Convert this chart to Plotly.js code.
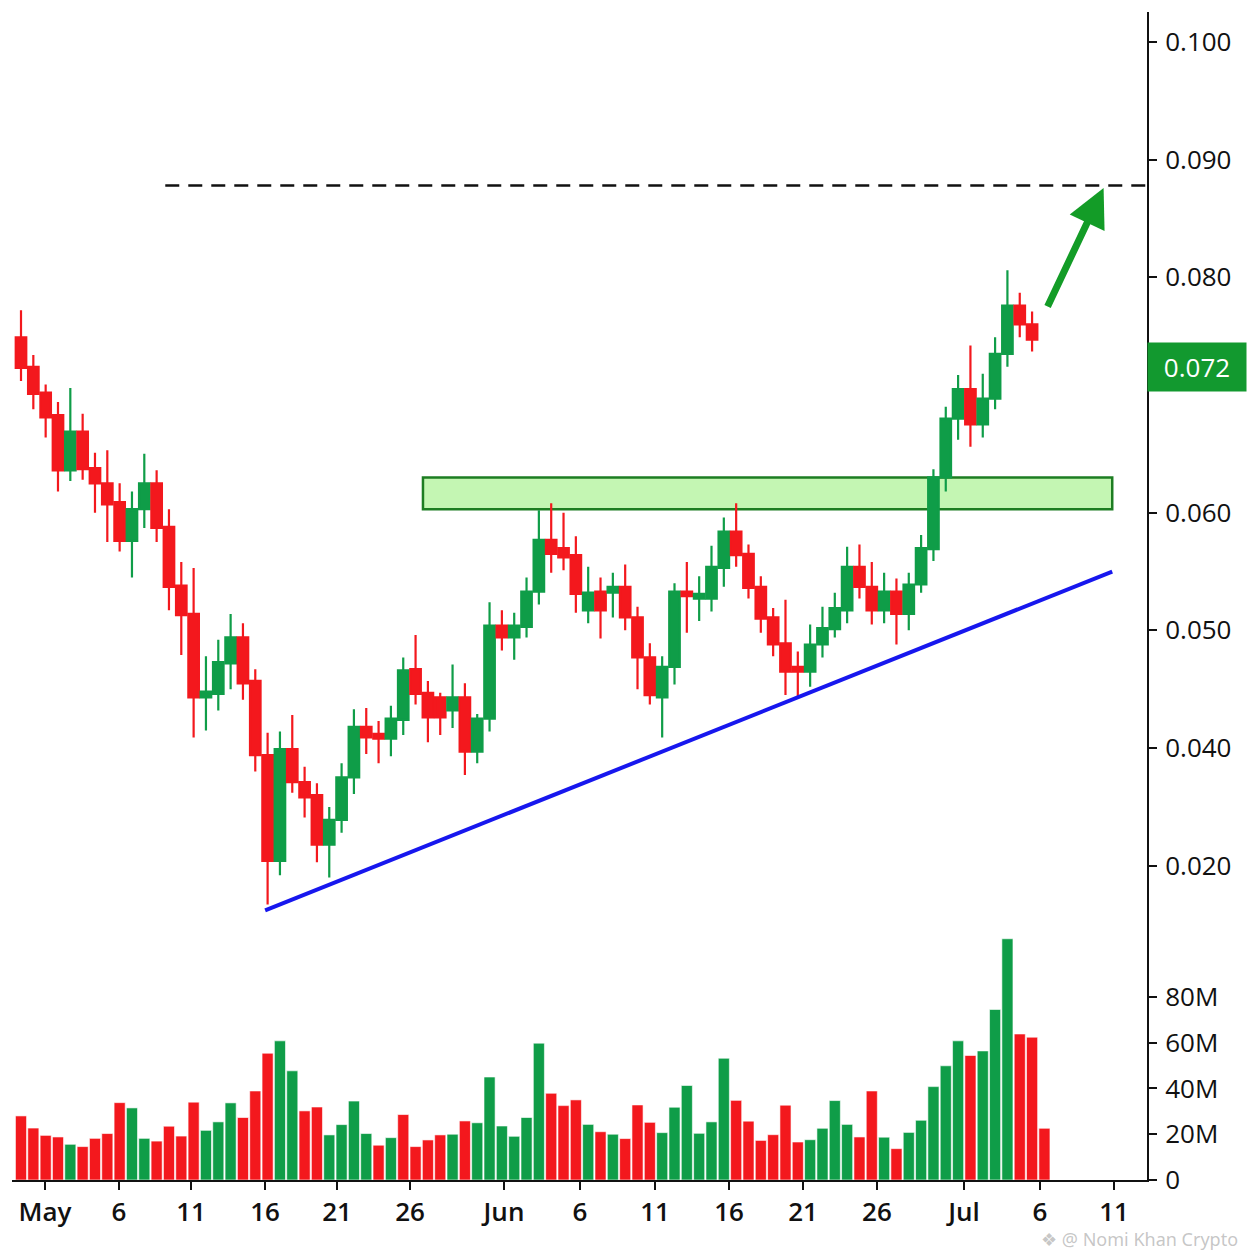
<!DOCTYPE html>
<html>
<head>
<meta charset="utf-8">
<script src="https://cdn.plot.ly/plotly-3.0.1.min.js"></script>
<style>
  html, body { margin: 0; padding: 0; background: #ffffff; }
  #chart { width: 1254px; height: 1254px; }
</style>
</head>
<body>
<div id="chart"></div>
<script>
// ---------------- DATA ----------------
// one candle per session, indexed 0..82 along the x axis
const openPrices = [
  0.0749, 0.0724, 0.0702, 0.0683, 0.0636, 0.0669, 0.0638, 0.0625, 0.0609, 0.0576,
  0.0603, 0.0625, 0.0588, 0.0538, 0.0514, 0.0443, 0.0446, 0.0472, 0.0494, 0.0457,
  0.0394, 0.0304, 0.0399, 0.0371, 0.0360, 0.0318, 0.0339, 0.0375, 0.0418, 0.0412,
  0.0408, 0.0424, 0.0467, 0.0447, 0.0443, 0.0432, 0.0443, 0.0397, 0.0425, 0.0504,
  0.0494, 0.0503, 0.0533, 0.0577, 0.0570, 0.0564, 0.0517, 0.0533, 0.0532, 0.0537,
  0.0511, 0.0477, 0.0443, 0.0469, 0.0533, 0.0527, 0.0527, 0.0553, 0.0584, 0.0565,
  0.0537, 0.0511, 0.0489, 0.0469, 0.0465, 0.0488, 0.0501, 0.0517, 0.0554, 0.0537,
  0.0517, 0.0533, 0.0514, 0.0539, 0.0569, 0.0630, 0.0680, 0.0705, 0.0675, 0.0697,
  0.0735, 0.0776, 0.0760
];
const highPrices = [
  0.0772, 0.0734, 0.0709, 0.0694, 0.0706, 0.0684, 0.0651, 0.0653, 0.0625, 0.0618,
  0.0650, 0.0636, 0.0603, 0.0558, 0.0553, 0.0478, 0.0492, 0.0514, 0.0506, 0.0467,
  0.0413, 0.0414, 0.0428, 0.0384, 0.0370, 0.0350, 0.0387, 0.0433, 0.0434, 0.0423,
  0.0436, 0.0477, 0.0496, 0.0457, 0.0447, 0.0471, 0.0455, 0.0429, 0.0524, 0.0517,
  0.0515, 0.0545, 0.0602, 0.0608, 0.0600, 0.0580, 0.0554, 0.0545, 0.0549, 0.0556,
  0.0520, 0.0489, 0.0478, 0.0540, 0.0558, 0.0546, 0.0572, 0.0596, 0.0608, 0.0573,
  0.0546, 0.0519, 0.0526, 0.0482, 0.0505, 0.0520, 0.0532, 0.0571, 0.0573, 0.0558,
  0.0549, 0.0544, 0.0549, 0.0581, 0.0637, 0.0690, 0.0717, 0.0742, 0.0718, 0.0749,
  0.0806, 0.0787, 0.0771
];
const lowPrices = [
  0.0712, 0.0688, 0.0664, 0.0618, 0.0627, 0.0628, 0.0600, 0.0575, 0.0567, 0.0545,
  0.0587, 0.0575, 0.0517, 0.0479, 0.0409, 0.0415, 0.0432, 0.0450, 0.0441, 0.0380,
  0.0267, 0.0292, 0.0362, 0.0341, 0.0303, 0.0290, 0.0328, 0.0361, 0.0395, 0.0387,
  0.0393, 0.0411, 0.0437, 0.0405, 0.0411, 0.0417, 0.0377, 0.0387, 0.0414, 0.0483,
  0.0475, 0.0494, 0.0522, 0.0549, 0.0551, 0.0515, 0.0506, 0.0493, 0.0511, 0.0500,
  0.0450, 0.0437, 0.0409, 0.0454, 0.0498, 0.0508, 0.0516, 0.0537, 0.0554, 0.0527,
  0.0498, 0.0478, 0.0445, 0.0444, 0.0452, 0.0477, 0.0494, 0.0506, 0.0527, 0.0505,
  0.0506, 0.0488, 0.0500, 0.0532, 0.0559, 0.0618, 0.0662, 0.0656, 0.0664, 0.0688,
  0.0724, 0.0749, 0.0737
];
const closePrices = [
  0.0723, 0.0701, 0.0681, 0.0636, 0.0669, 0.0637, 0.0625, 0.0607, 0.0576, 0.0603,
  0.0625, 0.0587, 0.0537, 0.0513, 0.0443, 0.0448, 0.0473, 0.0494, 0.0455, 0.0394,
  0.0304, 0.0399, 0.0371, 0.0358, 0.0318, 0.0339, 0.0375, 0.0418, 0.0409, 0.0408,
  0.0425, 0.0466, 0.0446, 0.0426, 0.0426, 0.0443, 0.0397, 0.0425, 0.0504, 0.0494,
  0.0504, 0.0533, 0.0577, 0.0565, 0.0562, 0.0531, 0.0532, 0.0517, 0.0537, 0.0511,
  0.0477, 0.0445, 0.0469, 0.0533, 0.0529, 0.0531, 0.0554, 0.0584, 0.0564, 0.0536,
  0.0510, 0.0488, 0.0465, 0.0465, 0.0488, 0.0502, 0.0519, 0.0554, 0.0537, 0.0517,
  0.0533, 0.0514, 0.0539, 0.0570, 0.0630, 0.0680, 0.0705, 0.0675, 0.0697, 0.0735,
  0.0776, 0.0760, 0.0747
];
// volume in millions, one bar per session (one more bar than candles)
const volumesM = [
  28.0, 22.7, 19.5, 18.8, 15.6, 14.6, 18.2, 20.3, 33.8, 31.5,
  18.2, 17.0, 23.5, 19.2, 34.0, 21.7, 25.4, 33.7, 27.3, 38.9,
  55.4, 60.8, 47.7, 30.2, 31.9, 19.7, 24.2, 34.5, 20.3, 15.2,
  18.5, 28.6, 14.6, 17.5, 19.7, 20.0, 25.8, 25.0, 45.0, 23.6,
  19.1, 27.3, 59.8, 37.9, 32.5, 35.0, 24.3, 21.1, 20.0, 18.1,
  32.8, 25.2, 20.7, 31.8, 41.3, 20.4, 25.4, 53.2, 34.8, 25.7,
  17.3, 19.8, 32.7, 16.6, 17.6, 22.6, 34.7, 24.3, 18.8, 38.9,
  18.7, 13.7, 20.8, 26.1, 40.8, 49.9, 60.8, 54.4, 56.4, 74.5,
  105.4, 63.8, 62.4, 22.6
];
const volumeDirection = [
  'd','d','d','d','u','d','d','d','d','u',
  'u','d','d','d','d','u','u','u','d','d',
  'd','u','u','d','d','u','u','u','u','d',
  'u','d','d','d','d','u','d','u','u','u',
  'u','u','u','d','d','d','u','d','u','d',
  'd','d','u','u','u','u','u','u','d','d',
  'd','d','d','d','u','u','u','u','d','d',
  'u','d','u','u','u','u','u','d','u','u',
  'u','d','d','d'
];
// x-axis date labels and where they fall on the session index axis
const dateTickLabels = ['May','6','11','16','21','26','Jun','6','11','16','21','26','Jul','6','11'];
const dateTickIndex  = [1.95, 7.95, 13.79, 19.79, 25.63, 31.55, 39.17, 45.34, 51.42, 57.42, 63.42, 69.42, 76.48, 82.64, 88.65];
// price-axis labels as printed on the chart
const priceTickLabels = ['0.020','0.040','0.050','0.060','0.080','0.090','0.100'];
const priceTickValues = [0.030, 0.040, 0.050, 0.060, 0.080, 0.090, 0.100];
const volumeTickLabels = ['0','20M','40M','60M','80M'];
const volumeTickValues = [0, 20, 40, 60, 80];
// annotated levels
const lastPriceTag = 0.072;
const targetPrice = 0.0878;
const targetStartIndex = 11.7;
const resistanceLow = 0.0603;
const resistanceHigh = 0.0630;
const resistanceStartIndex = 32.6;
const resistanceEndIndex = 88.5;
const trendStart = [19.8, 0.0262];
const trendEnd = [88.5, 0.0550];
const arrowFrom = [83.2, 0.0774];
const arrowTo = [87.8, 0.0876];

// ---------------- CHART ----------------
const GREEN = '#0f9d48';
const RED = '#f3181d';
const candleIdx = openPrices.map((_, i) => i);
const volIdx = volumesM.map((_, i) => i);

const candles = {
  type: 'candlestick',
  x: candleIdx, open: openPrices, high: highPrices, low: lowPrices, close: closePrices,
  xaxis: 'x', yaxis: 'y',
  increasing: { line: { color: GREEN, width: 2.2 }, fillcolor: GREEN },
  decreasing: { line: { color: RED, width: 2.2 }, fillcolor: RED },
  whiskerwidth: 0,
  hoverinfo: 'skip',
  showlegend: false
};
const volumes = {
  type: 'bar',
  x: volIdx, y: volumesM,
  xaxis: 'x', yaxis: 'y2',
  marker: { color: volumeDirection.map(d => d === 'u' ? GREEN : RED), line: { color: '#ffffff', width: 0.6 } },
  hoverinfo: 'skip',
  showlegend: false
};

const tickFont = { family: 'Open Sans, Noto Sans, sans-serif', size: 26, color: '#111111' };
const split = 0.2183;

const layout = {
  width: 1254, height: 1254,
  margin: { l: 12, r: 107, t: 12, b: 74 },
  paper_bgcolor: '#ffffff', plot_bgcolor: '#ffffff',
  showlegend: false,
  bargap: 0.1,
  boxgap: 0.1, boxgroupgap: 0.05,
  xaxis: {
    domain: [0, 1], range: [-0.73, 91.32], anchor: 'y2',
    showline: true, linecolor: '#111111', linewidth: 2,
    ticks: 'outside', ticklen: 8, tickwidth: 2, tickcolor: '#111111',
    tickvals: dateTickIndex, ticktext: dateTickLabels,
    tickfont: { family: 'Open Sans, Noto Sans, sans-serif', size: 26, color: '#111111', weight: 600 },
    showgrid: false, zeroline: false,
    rangeslider: { visible: false }, fixedrange: true
  },
  yaxis: {
    domain: [split, 1], range: [0.02496, 0.10255], anchor: 'x', side: 'right',
    showline: true, linecolor: '#111111', linewidth: 2,
    ticks: 'outside', ticklen: 8, tickwidth: 2, tickcolor: '#111111',
    tickvals: priceTickValues, ticktext: priceTickLabels,
    tickfont: tickFont, ticklabelstandoff: 3,
    showgrid: false, zeroline: false, fixedrange: true
  },
  yaxis2: {
    domain: [0, split], range: [0, 111.4], anchor: 'x', side: 'right',
    showline: true, linecolor: '#111111', linewidth: 2,
    ticks: 'outside', ticklen: 8, tickwidth: 2, tickcolor: '#111111',
    tickvals: volumeTickValues, ticktext: volumeTickLabels,
    tickfont: tickFont, ticklabelstandoff: 3,
    showgrid: false, zeroline: false, fixedrange: true
  },
  shapes: [
    { type: 'rect', xref: 'x', yref: 'y', layer: 'below',
      x0: resistanceStartIndex, x1: resistanceEndIndex, y0: resistanceLow, y1: resistanceHigh,
      fillcolor: '#c4f6b3', line: { color: '#1d7d22', width: 2.5 } },
    { type: 'line', xref: 'x', yref: 'y',
      x0: trendStart[0], y0: trendStart[1], x1: trendEnd[0], y1: trendEnd[1],
      line: { color: '#1717ee', width: 4 } },
    { type: 'line', xref: 'x', yref: 'y',
      x0: targetStartIndex, y0: targetPrice, x1: 91.32, y1: targetPrice,
      line: { color: '#111111', width: 2.5, dash: '14px,9px' } }
  ],
  annotations: [
    { xref: 'x', yref: 'y', axref: 'x', ayref: 'y',
      x: arrowTo[0], y: arrowTo[1], ax: arrowFrom[0], ay: arrowFrom[1],
      text: '', showarrow: true, arrowhead: 2, arrowsize: 1.1, arrowwidth: 7,
      arrowcolor: '#139c27' },
    { xref: 'paper', yref: 'y', x: 1, y: lastPriceTag, xanchor: 'left', yanchor: 'middle',
      yshift: 4, text: lastPriceTag.toFixed(3), showarrow: false,
      bgcolor: '#12992f', borderpad: 6, width: 86,
      font: { family: 'Open Sans, Noto Sans, sans-serif', size: 26, color: '#ffffff' } },
    { xref: 'paper', yref: 'paper', x: 1.082, y: -0.0505, xanchor: 'right', yanchor: 'middle',
      text: '❖ @ Nomi Khan Crypto', showarrow: false,
      font: { family: 'Noto Sans, DejaVu Sans, sans-serif', size: 18, color: 'rgba(150,150,150,0.55)' } }
  ]
};

Plotly.newPlot('chart', [volumes, candles], layout, { displayModeBar: false, staticPlot: true });
</script>
</body>
</html>
